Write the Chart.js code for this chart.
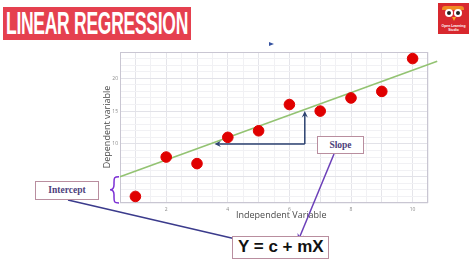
<!DOCTYPE html>
<html>
<head>
<meta charset="utf-8">
<script src="https://cdn.jsdelivr.net/npm/chart.js@4/dist/chart.umd.min.js"></script>
<style>
  html, body { margin: 0; padding: 0; background: #fff; }
  #wrap { position: relative; width: 474px; height: 266px; overflow: hidden; }
  #chart { position: absolute; left: 0; top: 0; }
  .banner { position: absolute; left: 3px; top: 7px; width: 188px; height: 33px; background: #e5404f; overflow: hidden; }
  .banner span { position: absolute; left: 3px; top: 0px; font: bold 31px "Liberation Sans", Arial, sans-serif; color: #fff;
    line-height: 33px; white-space: nowrap; transform-origin: 0 50%; letter-spacing: -0.5px; }
  .logo { position: absolute; left: 438px; top: 3px; width: 31px; height: 31px; background: #d8282e; }
  .logo .eye { position: absolute; top: 6px; width: 8px; height: 8px; background: #fff; border-radius: 50%; }
  .logo .eye i { position: absolute; left: 2px; top: 2px; width: 4px; height: 4px; background: #222; border-radius: 50%; }
  .logo .brow { position: absolute; top: 3px; width: 22px; left: 4px; height: 4px; background: #f08a24; border-radius: 3px 3px 0 0; }
  .logo .beak { position: absolute; left: 14px; top: 14px; width: 0; height: 0; border-left: 2px solid transparent; border-right: 2px solid transparent; border-top: 4px solid #f5a623; }
  .logo .txt { position: absolute; left: 0; top: 21px; width: 31px; text-align: center; font: bold 3.4px "Liberation Sans", sans-serif; color: #fff; line-height: 4.2px; }
  .box { position: absolute; background: #fff; border: 1px solid #b98e9f; box-sizing: border-box; text-align: center;
    font-family: "Liberation Serif", "DejaVu Serif", serif; font-weight: bold; color: #4d3f7c; }
  .eq { position: absolute; left: 232px; top: 236px; width: 97px; height: 23px; border: 1.5px solid #b98e9f; box-sizing: border-box;
    background: #fff; font: bold 17px "Liberation Sans", Arial, sans-serif; color: #111; line-height: 20px; padding-left: 5px; white-space: nowrap; }
</style>
</head>
<body>
<div id="wrap">
  <canvas id="chart" width="474" height="266"></canvas>
  <div class="banner"><span id="bannerText">LINEAR REGRESSION</span></div>
  <div class="logo">
    <div class="brow"></div>
    <div class="eye" style="left:7px"><i></i></div>
    <div class="eye" style="left:16px"><i></i></div>
    <div class="beak"></div>
    <div class="txt">Open Learning<br>Studio</div>
  </div>
  <div class="box" style="left:35px;top:181px;width:64px;height:19px;font-size:9.5px;line-height:17px;">Intercept</div>
  <div class="box" style="left:317px;top:136px;width:47px;height:18px;font-size:9.5px;line-height:16px;">Slope</div>
  <div class="eq">Y = c + mX</div>
</div>
<script>
// Observations
const xValues = [1, 2, 3, 4, 5, 6, 7, 8, 9, 10];
const yValues = [2, 8, 7, 11, 12, 16, 15, 17, 18, 23];

// Fitted line end points
const fitX = [0.5, 10.8];
const fitY = [5, 22.6];

// Labelled ticks
const xTickLabels = [2, 4, 6, 8, 10];
const yTickLabels = [10, 15, 20];

// Rise/run guide for the slope (data units)
const runFromX = 6.5, runToX = 3.57, runY = 10, riseTopY = 15;

// squeeze the banner text to fit
(function () {
  const s = document.getElementById('bannerText');
  const w = s.getBoundingClientRect().width;
  s.style.transform = 'scaleX(' + (182 / w) + ')';
})();

function arrowHead(ctx, x1, y1, x2, y2, size, color) {
  const a = Math.atan2(y2 - y1, x2 - x1);
  ctx.save();
  ctx.fillStyle = color;
  ctx.beginPath();
  ctx.moveTo(x2, y2);
  ctx.lineTo(x2 - size * Math.cos(a - 0.45), y2 - size * Math.sin(a - 0.45));
  ctx.lineTo(x2 - size * 0.6 * Math.cos(a), y2 - size * 0.6 * Math.sin(a));
  ctx.lineTo(x2 - size * Math.cos(a + 0.45), y2 - size * Math.sin(a + 0.45));
  ctx.closePath();
  ctx.fill();
  ctx.restore();
}

function arrow(ctx, x1, y1, x2, y2, color, width, size) {
  ctx.save();
  ctx.strokeStyle = color;
  ctx.lineWidth = width;
  ctx.beginPath();
  ctx.moveTo(x1, y1);
  ctx.lineTo(x2, y2);
  ctx.stroke();
  ctx.restore();
  arrowHead(ctx, x1, y1, x2, y2, size, color);
}

const decorations = {
  id: 'decorations',
  beforeDatasetsDraw(chart) {
    const { ctx, chartArea: a } = chart;
    ctx.save();
    ctx.strokeStyle = '#c9c6d2';
    ctx.lineWidth = 1;
    ctx.strokeRect(a.left + 0.5, a.top + 0.5, a.right - a.left - 1, a.bottom - a.top - 1);
    ctx.restore();
  },
  afterDraw(chart) {
    const { ctx, chartArea: a, scales } = chart;
    const xs = scales.x, ys = scales.y;

    // axis titles
    ctx.save();
    ctx.fillStyle = '#4a4a4a';
    ctx.font = '9px "Open Sans", sans-serif';
    ctx.textAlign = 'left';
    ctx.textBaseline = 'middle';
    ctx.fillText('Independent Variable', 236, 215);
    ctx.translate(107, 127);
    ctx.rotate(-Math.PI / 2);
    ctx.textAlign = 'center';
    ctx.fillText('Dependent variable', 0, 0);
    ctx.restore();

    // rise / run guide
    const navy = '#2c4270';
    const px = xs.getPixelForValue(runFromX);
    const py = ys.getPixelForValue(runY);
    ctx.save();
    ctx.strokeStyle = navy;
    ctx.lineWidth = 1.5;
    ctx.beginPath();
    ctx.moveTo(px, py);
    ctx.lineTo(xs.getPixelForValue(runToX) + 4, py);
    ctx.moveTo(px, py);
    ctx.lineTo(px, ys.getPixelForValue(riseTopY) + 4);
    ctx.stroke();
    ctx.restore();
    arrowHead(ctx, px, py, xs.getPixelForValue(runToX), py, 7, navy);
    arrowHead(ctx, px, py, px, ys.getPixelForValue(riseTopY), 7, navy);

    // intercept brace
    const top = ys.getPixelForValue(fitY[0]);
    const bot = a.bottom;
    const mid = (top + bot) / 2;
    const r = a.left - 1, l = a.left - 10;
    ctx.save();
    ctx.strokeStyle = '#7b2fd4';
    ctx.lineWidth = 1.5;
    ctx.beginPath();
    ctx.moveTo(r, top);
    ctx.bezierCurveTo(r - 5, top, l + 4, top + 1, l + 4, top + 6);
    ctx.lineTo(l + 4, mid - 5);
    ctx.bezierCurveTo(l + 4, mid - 1, l + 2, mid, l, mid);
    ctx.bezierCurveTo(l + 2, mid, l + 4, mid + 1, l + 4, mid + 5);
    ctx.lineTo(l + 4, bot - 6);
    ctx.bezierCurveTo(l + 4, bot - 1, r - 5, bot, r, bot);
    ctx.stroke();
    ctx.restore();

    // callout connectors
    arrow(ctx, 68, 200, 253, 243, '#3b3b8c', 1.5, 8);
    arrow(ctx, 334, 154, 298, 241, '#6b3fb8', 1.5, 8);

    // small marker above the plot
    ctx.save();
    ctx.fillStyle = '#3552a0';
    ctx.beginPath();
    ctx.moveTo(269, 42);
    ctx.lineTo(274, 44);
    ctx.lineTo(269, 46);
    ctx.closePath();
    ctx.fill();
    ctx.restore();
  }
};

const halfSteps = [];
for (let v = 0.5; v <= 10.5; v += 0.5) halfSteps.push(v);
const unitSteps = [];
for (let v = 1; v <= 24; v += 1) unitSteps.push(v);

new Chart(document.getElementById('chart'), {
  type: 'scatter',
  data: {
    datasets: [
      {
        label: 'Observations',
        data: xValues.map((x, i) => ({ x, y: yValues[i] })),
        backgroundColor: '#e00000',
        borderColor: '#e00000',
        pointRadius: 5.3,
        pointHoverRadius: 5.3,
        order: 0
      },
      {
        type: 'line',
        label: 'Fit',
        data: fitX.map((x, i) => ({ x, y: fitY[i] })),
        borderColor: '#93c372',
        borderWidth: 1.6,
        pointRadius: 0,
        showLine: true,
        clip: false,
        order: 1
      }
    ]
  },
  options: {
    responsive: false,
    devicePixelRatio: 1,
    animation: false,
    layout: { padding: { left: 0, top: 52, right: 46, bottom: 0 } },
    plugins: { legend: { display: false }, tooltip: { enabled: false } },
    scales: {
      x: {
        type: 'linear',
        min: 0.5,
        max: 10.5,
        afterBuildTicks(s) { s.ticks = halfSteps.map(v => ({ value: v })); },
        afterFit(s) { s.height = 63; },
        grid: {
          color: c => (c.tick && Number.isInteger(c.tick.value)) ? '#e5e5ea' : '#f1f1f4',
          lineWidth: 1,
          drawTicks: false
        },
        border: { display: false },
        ticks: {
          autoSkip: false,
          maxRotation: 0,
          padding: 4,
          color: '#8a8a8a',
          font: { size: 5, family: 'Open Sans' },
          callback: v => xTickLabels.includes(v) ? String(v) : ''
        }
      },
      y: {
        type: 'linear',
        min: 1,
        max: 24,
        afterBuildTicks(s) { s.ticks = unitSteps.map(v => ({ value: v })); },
        afterFit(s) { s.width = 120; },
        grid: {
          color: c => (c.tick && c.tick.value % 5 === 0) ? '#e2e2e8' : '#f1f1f4',
          lineWidth: 1,
          drawTicks: false
        },
        border: { display: false },
        ticks: {
          autoSkip: false,
          padding: 2,
          color: '#8a8a8a',
          font: { size: 5, family: 'Open Sans' },
          callback: v => yTickLabels.includes(v) ? String(v) : ''
        }
      }
    }
  },
  plugins: [decorations]
});
</script>
</body>
</html>
